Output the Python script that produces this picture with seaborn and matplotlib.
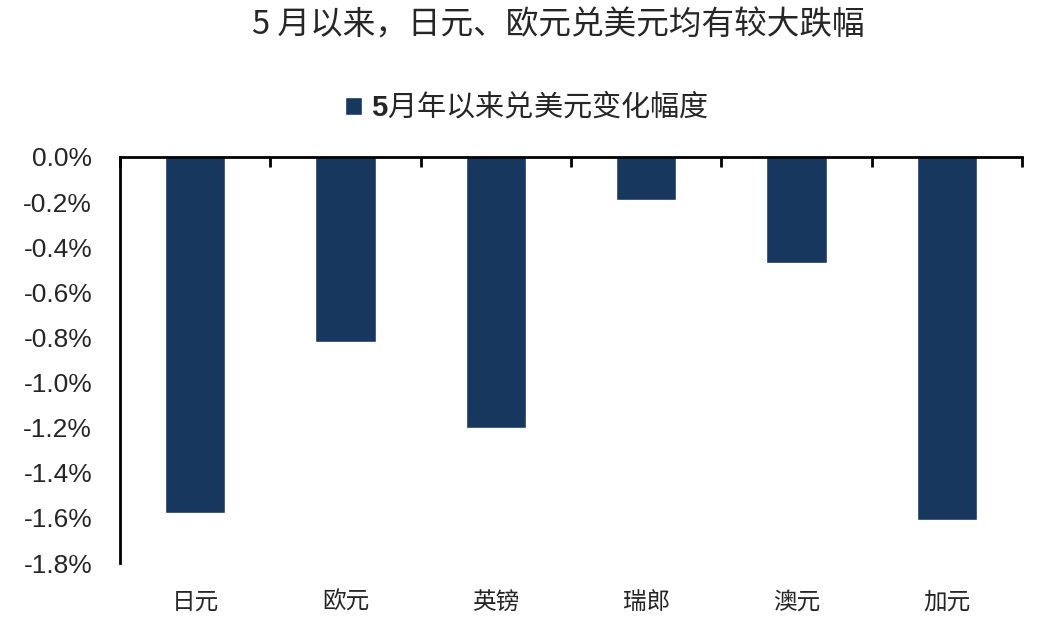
import numpy as np
import pandas as pd
import seaborn as sns
import matplotlib.pyplot as plt
from matplotlib.ticker import FuncFormatter, FixedLocator

currencies = ["日元", "欧元", "英镑", "瑞郎", "澳元", "加元"]
changes = [-1.58, -0.82, -1.20, -0.19, -0.47, -1.61]
series_name = r"$\mathbf{5}$月年以来兑美元变化幅度"
title = "5 月以来，日元、欧元兑美元均有较大跌幅"
yticks = [0.0, -0.2, -0.4, -0.6, -0.8, -1.0, -1.2, -1.4, -1.6, -1.8]

sns.set_style("white")
plt.rcParams["font.family"] = ["Noto Sans CJK SC", "DejaVu Sans"]
plt.rcParams["mathtext.fontset"] = "custom"
plt.rcParams["mathtext.bf"] = "Liberation Sans:bold"

df = pd.DataFrame({"currency": currencies, "change": changes})

fig = plt.figure(figsize=(10.55, 6.4), dpi=100)
ax = fig.add_axes([0.1137, 0.1203, 0.855, 0.6344])

sns.barplot(data=df, x="currency", y="change", color="#17375E", width=0.4,
            saturation=1, label=series_name, ax=ax)

ax.set_ylim(-1.8, 0)
ax.set_xlim(-0.5, len(currencies) - 0.5)
ax.set_yticks(yticks)
ax.yaxis.set_major_formatter(FuncFormatter(lambda v, p: f"{abs(v):.1f}%" if abs(v) < 1e-9 else f"{v:.1f}%"))
for lab in ax.get_yticklabels():
    lab.set_fontfamily("Liberation Sans")
    lab.set_fontsize(19)
ax.tick_params(axis="y", length=0, pad=20)
ax.tick_params(axis="x", which="major", length=0, pad=20, labelsize=17)

# boundary ticks on the zero line
ax.xaxis.set_minor_locator(FixedLocator(np.arange(-0.5, len(currencies), 1.0)))
ax.tick_params(axis="x", which="minor", top=True, bottom=False, direction="in",
               length=7, width=2, color="black")

ax.set_xlabel("")
ax.set_ylabel("")
for side in ["top", "left"]:
    ax.spines[side].set_visible(True)
    ax.spines[side].set_color("black")
    ax.spines[side].set_linewidth(2)
ax.spines["right"].set_visible(False)
ax.spines["bottom"].set_visible(False)

leg = ax.legend(loc="center", bbox_to_anchor=(527 / 1055, 1 - 107 / 640),
                bbox_transform=fig.transFigure, frameon=False, fontsize=21,
                handlelength=0.6, handleheight=0.6, handletextpad=0.3)

fig.text(558 / 1055, 1 - 25 / 640, title, ha="center", va="center", fontsize=23.5)

fig.savefig("out.png", dpi=100)
